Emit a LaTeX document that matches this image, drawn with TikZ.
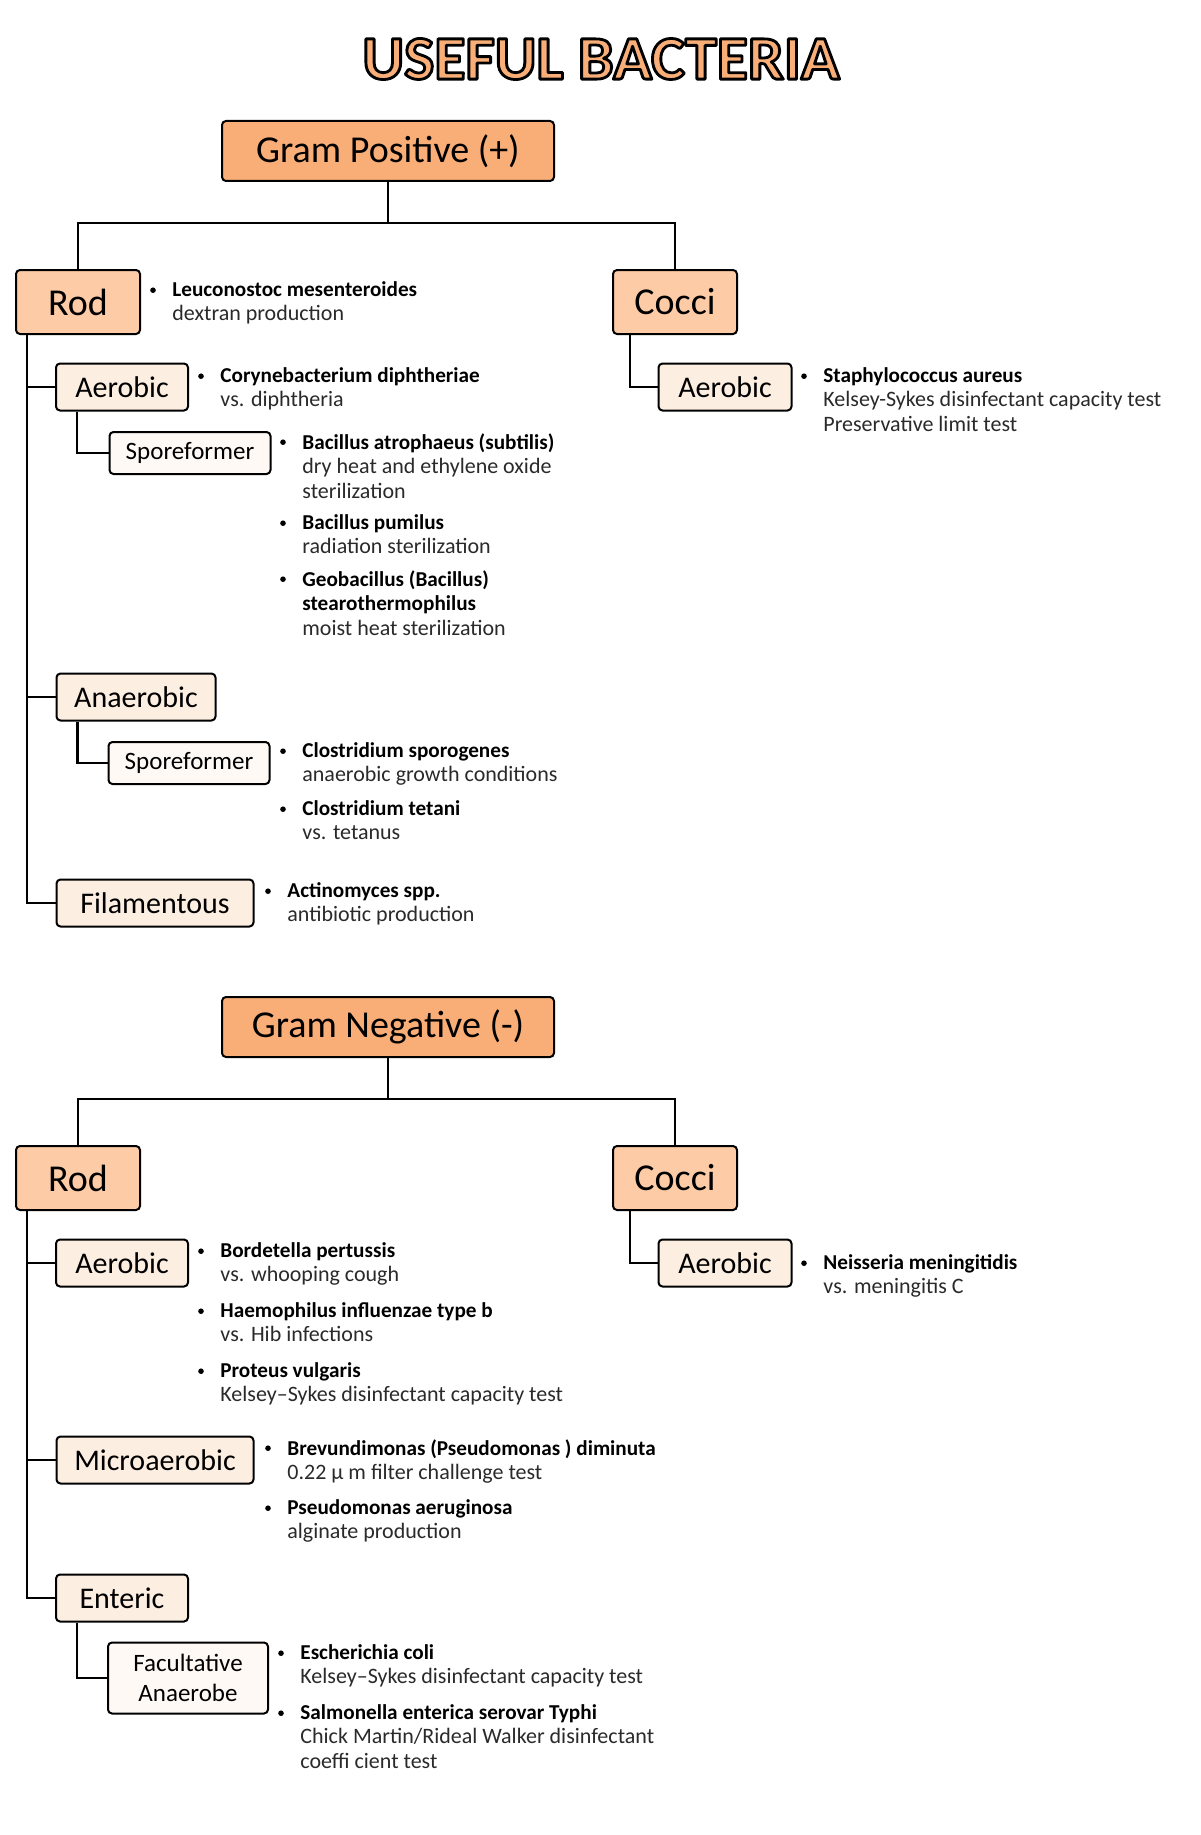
\documentclass[tikz,border=0pt]{standalone}
\usepackage{fontspec}
\setmainfont{Carlito}
\usepackage{graphicx}
\usetikzlibrary{positioning}

\definecolor{gramfill}{HTML}{F9AE78}
\definecolor{formfill}{HTML}{FDCCA6}
\definecolor{oxyfill}{HTML}{FDEEE2}
\definecolor{subfill}{HTML}{FFF9F5}
\definecolor{desctext}{HTML}{2A2A2A}

% outlined title letters (fill + stroke)
\newcommand{\outlined}[1]{\special{pdf:literal direct 0 0 0 RG 1.4 w 1 j 2 Tr}#1\special{pdf:literal direct 0 Tr}}
\newcommand{\bname}[1]{{\fontsize{10.6}{12.3}\selectfont\bfseries\color{black}#1}}

\begin{document}
\begin{tikzpicture}[x=0.5pt, y=-0.5pt,
  box/.style={draw, line width=1pt, rounded corners=2pt, inner sep=0pt, align=center},
  grambox/.style={box, fill=gramfill, minimum width=166pt, minimum height=30pt, font=\fontsize{19}{19}\selectfont},
  formbox/.style={box, fill=formfill, minimum width=62pt, minimum height=32pt, font=\fontsize{19}{19}\selectfont},
  oxybox/.style={box, fill=oxyfill, minimum height=23.5pt, font=\fontsize{15}{15}\selectfont},
  subbox/.style={box, fill=subfill, minimum width=80.5pt, minimum height=21pt, font=\fontsize{12.5}{15}\selectfont},
  itemtext/.style={anchor=north west, inner sep=0pt, align=left, text=desctext, font=\fontsize{11}{12.3}\selectfont},
  link/.style={line width=1.2pt}]
\path[use as bounding box, fill=white] (0,0) rectangle (1200,1835);

% title
\node (title) at (601,59) {\fontsize{31}{31}\selectfont\bfseries\scalebox{1.03}[1]{\textcolor{gramfill}{\outlined{USEFUL BACTERIA}}}};

% gram positive
\node[grambox] (gp) at (388,151) {Gram Positive (+)};
\node[formbox] (gprod) at (78,302) {Rod};
\node[formbox] (gpcoc) at (675,302) {Cocci};
\node[oxybox, minimum width=66pt] (gpaer) at (122,387) {Aerobic};
\node[subbox] (gpspo1) at (190,453) {Sporeformer};
\node[oxybox, minimum width=79.5pt] (gpana) at (136,697) {Anaerobic};
\node[subbox] (gpspo2) at (189,763) {Sporeformer};
\node[oxybox, minimum width=98.5pt] (gpfil) at (155,903) {Filamentous};
\node[oxybox, minimum width=66.5pt] (gpcaer) at (725,387) {Aerobic};

\draw[link] (gp.south) -- ++(0,41) -| (gprod.north);
\draw[link] (gp.south) -- ++(0,41) -| (gpcoc.north);
\draw[link] ([xshift=6pt]gprod.south west) |- (gpaer.west);
\draw[link] ([xshift=6pt]gprod.south west) |- (gpana.west);
\draw[link] ([xshift=6pt]gprod.south west) |- (gpfil.west);
\draw[link] ([xshift=11pt]gpaer.south west) |- (gpspo1.west);
\draw[link] ([xshift=11pt]gpana.south west) |- (gpspo2.west);
\draw[link] ([xshift=9pt]gpcoc.south west) |- (gpcaer.west);

\node[itemtext] (leu) at (172,281) {\bname{Leuconostoc mesenteroides}\\dextran production};
\node[itemtext] (cor) at (220,367) {\bname{Corynebacterium diphtheriae}\\vs. diphtheria};
\node[itemtext] (bat) at (302,433) {\bname{Bacillus atrophaeus (subtilis)}\\dry heat and ethylene oxide\\sterilization};
\node[itemtext] (bpu) at (302,514) {\bname{Bacillus pumilus}\\radiation sterilization};
\node[itemtext] (geo) at (302,570) {\bname{Geobacillus (Bacillus)}\\\bname{stearothermophilus}\\moist heat sterilization};
\node[itemtext] (csp) at (302,742) {\bname{Clostridium sporogenes}\\anaerobic growth conditions};
\node[itemtext] (cte) at (302,800) {\bname{Clostridium tetani}\\vs. tetanus};
\node[itemtext] (act) at (287,882) {\bname{Actinomyces spp.}\\antibiotic production};
\node[itemtext] (sta) at (823,367) {\bname{Staphylococcus aureus}\\Kelsey-Sykes disinfectant capacity test\\Preservative limit test};

% gram negative
\node[grambox] (gn) at (388,1027) {Gram Negative (-)};
\node[formbox] (gnrod) at (78,1178) {Rod};
\node[formbox] (gncoc) at (675,1178) {Cocci};
\node[oxybox, minimum width=66pt] (gnaer) at (122,1263) {Aerobic};
\node[oxybox, minimum width=98.5pt] (gnmic) at (155,1460) {Microaerobic};
\node[oxybox, minimum width=66pt] (gnent) at (122,1598) {Enteric};
\node[subbox, minimum width=80pt, minimum height=35.5pt] (gnfac) at (188,1678) {Facultative\\Anaerobe};
\node[oxybox, minimum width=66.5pt] (gncaer) at (725,1263) {Aerobic};

\draw[link] (gn.south) -- ++(0,41) -| (gnrod.north);
\draw[link] (gn.south) -- ++(0,41) -| (gncoc.north);
\draw[link] ([xshift=6pt]gnrod.south west) |- (gnaer.west);
\draw[link] ([xshift=6pt]gnrod.south west) |- (gnmic.west);
\draw[link] ([xshift=6pt]gnrod.south west) |- (gnent.west);
\draw[link] ([xshift=11pt]gnent.south west) |- (gnfac.west);
\draw[link] ([xshift=9pt]gncoc.south west) |- (gncaer.west);

\node[itemtext] (bor) at (220,1242) {\bname{Bordetella pertussis}\\vs. whooping cough};
\node[itemtext] (hae) at (220,1302) {\bname{Haemophilus influenzae type b}\\vs. Hib infections};
\node[itemtext] (pro) at (220,1362) {\bname{Proteus vulgaris}\\Kelsey–Sykes disinfectant capacity test};
\node[itemtext] (bre) at (287,1439) {\bname{Brevundimonas (Pseudomonas ) diminuta}\\0.22 μ m filter challenge test};
\node[itemtext] (pae) at (287,1499) {\bname{Pseudomonas aeruginosa}\\alginate production};
\node[itemtext] (eco) at (300,1644) {\bname{Escherichia coli}\\Kelsey–Sykes disinfectant capacity test};
\node[itemtext] (sal) at (300,1704) {\bname{Salmonella enterica serovar Typhi}\\Chick Martin/Rideal Walker disinfectant\\coeffi cient test};
\node[itemtext] (nei) at (823,1254) {\bname{Neisseria meningitidis}\\vs. meningitis C};

% bullets
\foreach \n in {leu,cor,bat,bpu,geo,csp,cte,act,sta,bor,hae,pro,bre,pae,eco,sal,nei}
  \fill ([shift={(-9.5pt,-4.6pt)}]\n.north west) circle (1.4pt);
\end{tikzpicture}
\end{document}
